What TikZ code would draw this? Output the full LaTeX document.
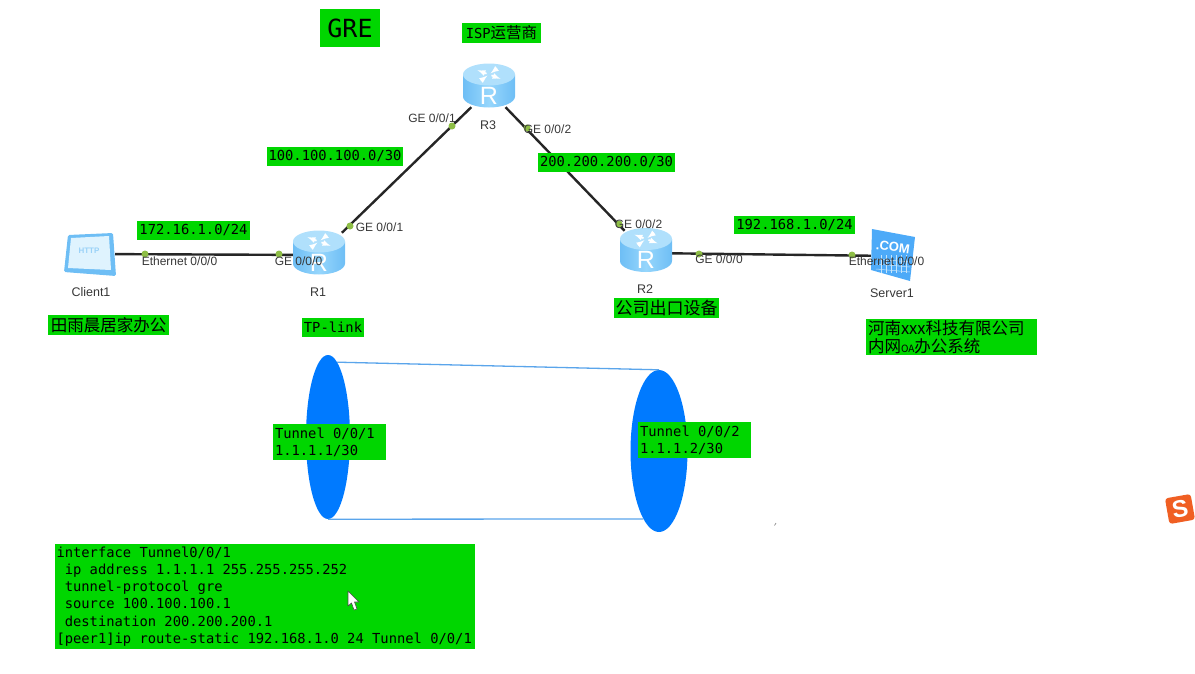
\documentclass[tikz,border=0pt]{standalone}
\usepackage{fontspec}
\setmainfont{Liberation Sans}
\setmonofont{DejaVu Sans Mono}
\newfontfamily\cjk{Noto Sans CJK SC}
\usetikzlibrary{positioning}
\usetikzlibrary{shapes.geometric}

\definecolor{labelgreen}{RGB}{0,214,0}
\definecolor{portgreen}{RGB}{142,190,70}
\definecolor{tunnelblue}{RGB}{0,122,255}
\definecolor{tunnelline}{RGB}{90,165,235}
\definecolor{routertop}{RGB}{176,224,252}
\definecolor{routerdark}{RGB}{110,190,245}
\definecolor{routerlight}{RGB}{150,214,252}
\definecolor{textgrey}{RGB}{55,55,55}
\definecolor{sogou}{RGB}{240,95,35}

\newcommand{\gap}{\hspace*{8.3pt}}

\tikzset{
    device/.style={minimum width=52pt, minimum height=44pt, inner sep=0pt},
    devname/.style={text=textgrey, font=\fontsize{12.5}{14}\selectfont, inner sep=0pt},
    portdot/.style={circle, fill=portgreen, minimum size=7pt, inner sep=0pt},
    portname/.style={text=textgrey, font=\fontsize{12}{14}\selectfont, inner sep=0pt},
    link/.style={black!85, line width=2.4pt},
    greenbox/.style={fill=labelgreen, inner sep=0pt, align=left,
        font=\ttfamily\fontsize{13.8}{17.2}\selectfont},
    tunnelend/.style={ellipse, fill=tunnelblue, inner sep=0pt},
    tunnelpipe/.style={tunnelline, line width=1.3pt},
    router/.pic={
        \path[left color=routerdark, right color=routerdark, middle color=routerlight]
            (-26,-11) -- (-26,11) arc (180:0:26 and 11) -- (26,-11) -- cycle;
        \fill[routertop] (0,-11) ellipse (26 and 11);
        \foreach \a in {35,215}
            \draw[white, line width=1.7pt, -latex] (\a:3 and 1.5) ++(0,-11) -- ++(\a:11 and 6);
        \foreach \a in {125,305}
            \draw[white, line width=1.7pt, latex-] (\a:3 and 1.5) ++(0,-11) -- ++(\a:11 and 6);
        \node[white, font=\fontsize{25}{25}\selectfont] at (0,10) {R};
    },
    client/.pic={
        \fill[rounded corners=1.5pt, routerdark]
            (-22,-19) -- (23,-21) -- (26,22) -- (-26,18) -- cycle;
        \fill[routertop!40] (-19,-16) -- (19,-18) -- (21,16) -- (-22,14) -- cycle;
        \node[routerdark!70, font=\bfseries\fontsize{8}{8}\selectfont] at (-1,-3) {HTTP};
    },
    server/.pic={
        \fill[routerdark!70!tunnelblue] (-21,-27) -- (22,-19) -- (17,25) -- (-22,14) -- cycle;
        \node[white, rotate=-8, font=\bfseries\fontsize{13}{13}\selectfont] at (0,-9) {.COM};
        \foreach \i in {-12,-7,-2,3,8,13}
            \draw[white!60!routerdark, line width=.5pt] (\i,-1) -- (\i,17);
        \foreach \j in {3,8,13}
            \draw[white!60!routerdark, line width=.5pt] (-17,\j) -- (17,\j+3);
    }
}

\begin{document}
\begin{tikzpicture}[x=1pt, y=-1pt]

    \useasboundingbox (0,0) rectangle (1195,673);

    % Define devices
    \node[device, minimum width=50pt]  (client) at (90,254) {};
    \node[device]                      (r1)     at (319,255) {};
    \node[device, minimum height=34pt] (r3)     at (489,90) {};
    \node[device]                      (r2)     at (646,253) {};
    \node[device, minimum width=44pt]  (server) at (893,256) {};

    % Connect the devices
    \draw[link] (client) -- (r1);
    \draw[link] (r1) -- (r3);
    \draw[link] (r3) -- (r2);
    \draw[link] (r2) -- (server);

    % Icons
    \pic at (client) {client};
    \pic at ([yshift=2.5pt]r1) {router};
    \pic at ([yshift=4.5pt]r3) {router};
    \pic at ([yshift=3pt]r2) {router};
    \pic at (server) {server};

    % Ports
    \node[portdot] (p1) at (145,254) {};
    \node[portdot] (p2) at (279,254) {};
    \node[portdot] (p3) at (350,226) {};
    \node[portdot] (p4) at (452,126) {};
    \node[portdot] (p5) at (527,128) {};
    \node[portdot] (p6) at (619,224) {};
    \node[portdot] (p7) at (699,254) {};
    \node[portdot] (p8) at (852,255) {};

    \node[portname] at (179.5,261) {Ethernet 0/0/0};
    \node[portname] at (298.5,261) {GE 0/0/0};
    \node[portname] at (379.5,227) {GE 0/0/1};
    \node[portname] at (432,118) {GE 0/0/1};
    \node[portname] at (547.5,129) {GE 0/0/2};
    \node[portname] at (638.5,224) {GE 0/0/2};
    \node[portname] at (719,259) {GE 0/0/0};
    \node[portname] at (886.5,261) {Ethernet 0/0/0};

    \node[devname] (clientname) at (91,292) {Client1};
    \node[devname] (r1name)     at (318,292) {R1};
    \node[devname] (r3name)     at (488,125) {R3};
    \node[devname] (r2name)     at (645,289) {R2};
    \node[devname] (servername) at (892,293) {Server1};

    % Green labels
    \node[greenbox, minimum width=60pt, minimum height=38pt, font=\ttfamily\fontsize{25}{25}\selectfont] (title) at (350,28) {GRE};
    \node[greenbox, minimum width=79pt, minimum height=20pt] (isp) at (501.5,33) {ISP{\cjk\fontsize{15.5}{17}\selectfont 运营商}};
    \node[greenbox, minimum width=136pt, minimum height=19pt] (net13) at (335,156.5) {100.100.100.0/30};
    \node[greenbox, minimum width=137pt, minimum height=19pt] (net23) at (606.5,162.5) {200.200.200.0/30};
    \node[greenbox, minimum width=113pt, minimum height=19pt] (net1) at (193.5,230.5) {172.16.1.0/24};
    \node[greenbox, minimum width=121pt, minimum height=18pt] (net2) at (794.5,225) {192.168.1.0/24};
    \node[greenbox, minimum width=62pt, minimum height=19pt] (r1note) at (333,327.5) {TP-link};
    \node[greenbox, minimum width=121pt, minimum height=20pt, font=\cjk\fontsize{16.5}{18}\selectfont] (clientnote) at (108.5,325) {田雨晨居家办公};
    \node[greenbox, minimum width=105pt, minimum height=20pt, font=\cjk\fontsize{17}{18}\selectfont] (r2note) at (666.5,308) {公司出口设备};
    \node[greenbox, minimum width=171pt, minimum height=36pt, text width=167pt, font=\cjk\fontsize{16.5}{18}\selectfont] (servernote) at (951.5,337) {河南xxx科技有限公司\\内网{\fontsize{10}{10}\selectfont OA}办公系统};

    % Tunnel
    \node[tunnelend, minimum width=44pt, minimum height=164pt] (tunnel1) at (328,437) {};
    \node[tunnelend, minimum width=57pt, minimum height=162pt] (tunnel2) at (659,451) {};
    \draw[tunnelpipe] (tunnel1.83) -- (tunnel2.north);
    \draw[tunnelpipe] (tunnel1.south) -- (tunnel2.257.5);

    \node[greenbox, minimum width=113pt, minimum height=36pt, text width=109pt] (tunnel1note) at (329.5,442) {Tunnel\gap 0/0/1\\1.1.1.1/30};
    \node[greenbox, minimum width=113pt, minimum height=36pt, text width=109pt] (tunnel2note) at (694.5,440) {Tunnel\gap 0/0/2\\1.1.1.2/30};

    % Config
    \node[greenbox, minimum width=420pt, minimum height=105pt, text width=417pt] (config) at (265,596.5) {interface\gap Tunnel0/0/1\\
\gap ip\gap address\gap 1.1.1.1\gap 255.255.255.252\\
\gap tunnel-protocol\gap gre\\
\gap source\gap 100.100.100.1\\
\gap destination\gap 200.200.200.1\\
{[}peer1]ip\gap route-static\gap 192.168.1.0\gap 24\gap Tunnel\gap 0/0/1};

    % Cursor, tray icon
    \draw[black!70, fill=white, line width=.6pt, line join=round] (348,591) -- (348,606) -- (351.5,603) -- (354,610) -- (357,609) -- (354.5,602) -- (359,602) -- cycle;
    \draw[black!45, line width=.7pt] (776,523) -- (774.5,525.5);
    \node[fill=sogou, rounded corners=3pt, minimum size=26pt, inner sep=0pt, rotate=10, text=white, font=\bfseries\fontsize{24}{24}\selectfont] (tray) at (1180,509) {S};

\end{tikzpicture}
\end{document}
